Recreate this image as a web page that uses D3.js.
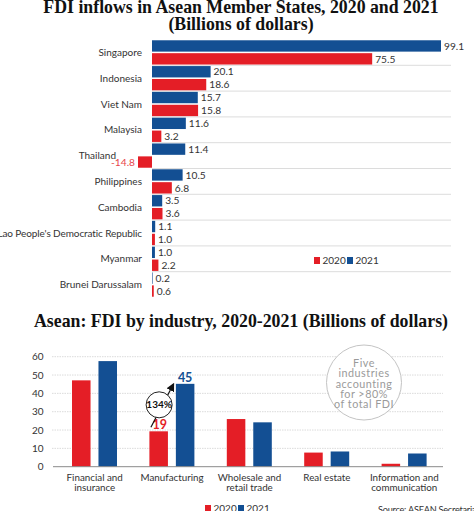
<!DOCTYPE html>
<html>
<head>
<meta charset="utf-8">
<script src="https://cdn.jsdelivr.net/npm/d3@7"></script>
<style>
  body { margin: 0; background: #fff; }
  svg { display: block; font-family: Lato, "Open Sans", sans-serif; }
  .title { font-family: "Liberation Serif", serif; font-weight: bold; fill: #111; }
</style>
</head>
<body>
<script>
const w = 474;
const h = 511;

const red = "#e41e26";
const blue = "#134f93";

// top chart data
const countries = ["Singapore", "Indonesia", "Viet Nam", "Malaysia", "Thailand",
  "Philippines", "Cambodia", "Lao People's Democratic Republic", "Myanmar", "Brunei Darussalam"];
const fdi2020 = [75.5, 18.6, 15.8, 3.2, -14.8, 6.8, 3.6, 1.0, 2.2, 0.6];
const fdi2021 = [99.1, 20.1, 15.7, 11.6, 11.4, 10.5, 3.5, 1.1, 1.0, 0.2];

// bottom chart data
const industries = [["Financial and", "insurance"], ["Manufacturing"], ["Wholesale and", "retail trade"],
  ["Real estate"], ["Information and", "communication"]];
const ind2020 = [47.1, 19.3, 26.0, 7.7, 1.6];
const ind2021 = [57.6, 45.2, 24.2, 8.3, 7.2];
const yTicks = [0, 10, 20, 30, 40, 50, 60];
const noteLines = ["Five", "industries", "accounting", "for >80%", "of total FDI"];
const years = ["2020", "2021"];

let svg = d3.select("body")
  .append("svg")
    .attr("width", w)
    .attr("height", h);

// ---------- top chart ----------
svg.append("text").attr("class", "title")
  .attr("x", 241).attr("y", 13)
  .attr("text-anchor", "middle").attr("font-size", 17.8)
  .text("FDI inflows in Asean Member States, 2020 and 2021");
svg.append("text").attr("class", "title")
  .attr("x", 241).attr("y", 30)
  .attr("text-anchor", "middle").attr("font-size", 17.8)
  .text("(Billions of dollars)");

let minV = d3.min(fdi2020.concat(fdi2021));
let maxV = d3.max(fdi2020.concat(fdi2021));
// negative side is squeezed like in the original graphic
let x = d3.scaleLinear()
  .domain([minV, 0, maxV])
  .range([138, 152, 441]);

let y0 = d3.scaleBand()
  .domain(countries)
  .range([39.5, 297.5]);
let y1 = d3.scaleBand()
  .domain(["2021", "2020"])
  .range([0, y0.bandwidth()])
  .paddingInner(0.12)
  .paddingOuter(0.06);

let topG = svg.append("g");

topG.selectAll("line.grid")
  .data(countries.slice(1))
  .enter()
  .append("line")
    .attr("class", "grid")
    .attr("x1", x(0)).attr("x2", 451)
    .attr("y1", d => y0(d)).attr("y2", d => y0(d))
    .attr("stroke", "#dcdcdc").attr("stroke-width", 1);

let rows = countries.map((c, i) => ({ c: c, v20: fdi2020[i], v21: fdi2021[i] }));
let bars = [];
rows.forEach(r => {
  bars.push({ c: r.c, year: "2021", v: r.v21 });
  bars.push({ c: r.c, year: "2020", v: r.v20 });
});

topG.selectAll("rect.bar")
  .data(bars)
  .enter()
  .append("rect")
    .attr("class", "bar")
    .attr("x", d => x(Math.min(0, d.v)))
    .attr("width", d => Math.abs(x(d.v) - x(0)))
    .attr("y", d => y0(d.c) + y1(d.year))
    .attr("height", y1.bandwidth())
    .attr("fill", d => d.year == "2020" ? red : blue);

topG.selectAll("text.val")
  .data(bars)
  .enter()
  .append("text")
    .attr("class", "val")
    .attr("x", d => d.v < 0 ? x(d.v) - 3 : x(d.v) + 3)
    .attr("y", d => y0(d.c) + y1(d.year) + y1.bandwidth() / 2)
    .attr("dy", "0.36em")
    .attr("text-anchor", d => d.v < 0 ? "end" : "start")
    .attr("font-size", 10.2)
    .attr("fill", d => d.v < 0 ? "#e8454b" : "#333")
    .text(d => d.v.toFixed(1));

topG.selectAll("text.cat")
  .data(rows)
  .enter()
  .append("text")
    .attr("class", "cat")
    .attr("x", d => d.v20 < 0 ? 116 : 142)
    .attr("y", d => y0(d.c) + y0.bandwidth() / 2)
    .attr("dy", "0.36em")
    .attr("text-anchor", "end")
    .attr("font-size", 10)
    .attr("letter-spacing", d => d.c.length > 20 ? -0.1 : 0)
    .attr("fill", "#333")
    .text(d => d.c);

function legend(g, lx, ly) {
  years.forEach((yr, i) => {
    let ox = lx + i * 33;
    g.append("rect").attr("x", ox).attr("y", ly - 7).attr("width", 6).attr("height", 7)
      .attr("fill", yr == "2020" ? red : blue);
    g.append("text").attr("x", ox + 8.5).attr("y", ly)
      .attr("font-size", 10).attr("fill", "#333").text(yr);
  });
}
legend(topG, 314, 264);

// ---------- bottom chart ----------
svg.append("text").attr("class", "title")
  .attr("x", 241).attr("y", 327)
  .attr("text-anchor", "middle").attr("font-size", 17.8)
  .text("Asean: FDI by industry, 2020-2021 (Billions of dollars)");

let yb = d3.scaleLinear()
  .domain([0, 60])
  .range([466.7, 356.7]);

let xb0 = d3.scaleBand()
  .domain(industries.map(d => d.join(" ")))
  .range([56, 443]);
let xb1 = d3.scaleBand()
  .domain(years)
  .range([16, 61])
  .paddingInner(0.3);

let bot = svg.append("g");

bot.selectAll("line.grid")
  .data(yTicks.slice(1))
  .enter()
  .append("line")
    .attr("x1", 52).attr("x2", 443)
    .attr("y1", d => yb(d)).attr("y2", d => yb(d))
    .attr("stroke", "#d2d2d2").attr("stroke-width", 0.8)
    .attr("stroke-dasharray", "1.5,1");

bot.selectAll("text.tick")
  .data(yTicks)
  .enter()
  .append("text")
    .attr("x", 43.5)
    .attr("y", d => yb(d))
    .attr("dy", "0.36em")
    .attr("text-anchor", "end")
    .attr("font-size", 10)
    .attr("fill", "#333")
    .text(d => d);

let ibars = [];
industries.forEach((ind, i) => {
  ibars.push({ k: ind.join(" "), year: "2020", v: ind2020[i] });
  ibars.push({ k: ind.join(" "), year: "2021", v: ind2021[i] });
});

bot.selectAll("rect.bar")
  .data(ibars)
  .enter()
  .append("rect")
    .attr("x", d => xb0(d.k) + xb1(d.year))
    .attr("width", xb1.bandwidth())
    .attr("y", d => yb(d.v))
    .attr("height", d => yb(0) - yb(d.v))
    .attr("fill", d => d.year == "2020" ? red : blue);

bot.append("line")
  .attr("x1", 53).attr("x2", 443)
  .attr("y1", yb(0)).attr("y2", yb(0))
  .attr("stroke", "#8a8a8a").attr("stroke-width", 1);

industries.forEach(ind => {
  let t = bot.append("text")
    .attr("text-anchor", "middle")
    .attr("font-size", 9.8)
    .attr("fill", "#333");
  ind.forEach((line, j) => {
    t.append("tspan")
      .attr("x", xb0(ind.join(" ")) + xb0.bandwidth() / 2)
      .attr("y", 481 + j * 9.6)
      .text(line);
  });
});

// manufacturing annotation
let mk = industries[1].join(" ");
let redX = xb0(mk) + xb1("2020");
let blueX = xb0(mk) + xb1("2021");
bot.append("text")
  .attr("x", redX + xb1.bandwidth() / 2 + 1).attr("y", yb(ind2020[1]) - 2)
  .attr("text-anchor", "middle").attr("font-size", 12.5).attr("font-weight", "bold")
  .attr("fill", red).text(Math.round(ind2020[1]));
bot.append("text")
  .attr("x", blueX + xb1.bandwidth() / 2).attr("y", yb(ind2021[1]) - 2)
  .attr("text-anchor", "middle").attr("font-size", 12.5).attr("font-weight", "bold")
  .attr("fill", blue).text(Math.round(ind2021[1]));

let ax1 = redX + 1.5, ay1 = yb(ind2020[1]) - 4;
let ax2 = blueX - 2.5, ay2 = yb(ind2021[1]) + 0.5;
svg.append("defs").append("marker")
  .attr("id", "arr").attr("viewBox", "0 0 10 10")
  .attr("refX", 8).attr("refY", 5)
  .attr("markerWidth", 7).attr("markerHeight", 7)
  .attr("orient", "auto")
  .append("path").attr("d", "M0,0 L10,5 L0,10 z").attr("fill", "#111");
bot.append("line")
  .attr("x1", ax1).attr("y1", ay1).attr("x2", ax2).attr("y2", ay2)
  .attr("stroke", "#111").attr("stroke-width", 1.2)
  .attr("marker-end", "url(#arr)");
let cx = (ax1 + ax2) / 2 - 3, cy = (ay1 + ay2) / 2 - 1;
bot.append("circle")
  .attr("cx", cx).attr("cy", cy).attr("r", 13)
  .attr("fill", "#fff").attr("stroke", "#222").attr("stroke-width", 1);
bot.append("text")
  .attr("x", cx).attr("y", cy).attr("dy", "0.36em")
  .attr("text-anchor", "middle").attr("font-size", 10).attr("font-weight", "bold")
  .attr("fill", "#111")
  .text(Math.round((ind2021[1] - ind2020[1]) / ind2020[1] * 100) + "%");

// note bubble
bot.append("circle")
  .attr("cx", 364).attr("cy", 382.5).attr("r", 37.5)
  .attr("fill", "#fff").attr("stroke", "#c4c4c4").attr("stroke-width", 1);
bot.selectAll("text.note")
  .data(noteLines)
  .enter()
  .append("text")
    .attr("x", 364)
    .attr("y", (d, i) => 363 + i * 10.4)
    .attr("dy", "0.36em")
    .attr("text-anchor", "middle")
    .attr("font-size", 10.8)
    .attr("letter-spacing", 0.5)
    .attr("fill", "#9a9a9a")
    .text(d => d);

legend(bot, 205, 512);

bot.append("text")
  .attr("x", 378).attr("y", 513)
  .attr("font-size", 9.2).attr("letter-spacing", -0.25).attr("fill", "#333")
  .text("Source: ASEAN Secretariat");
</script>
</body>
</html>
